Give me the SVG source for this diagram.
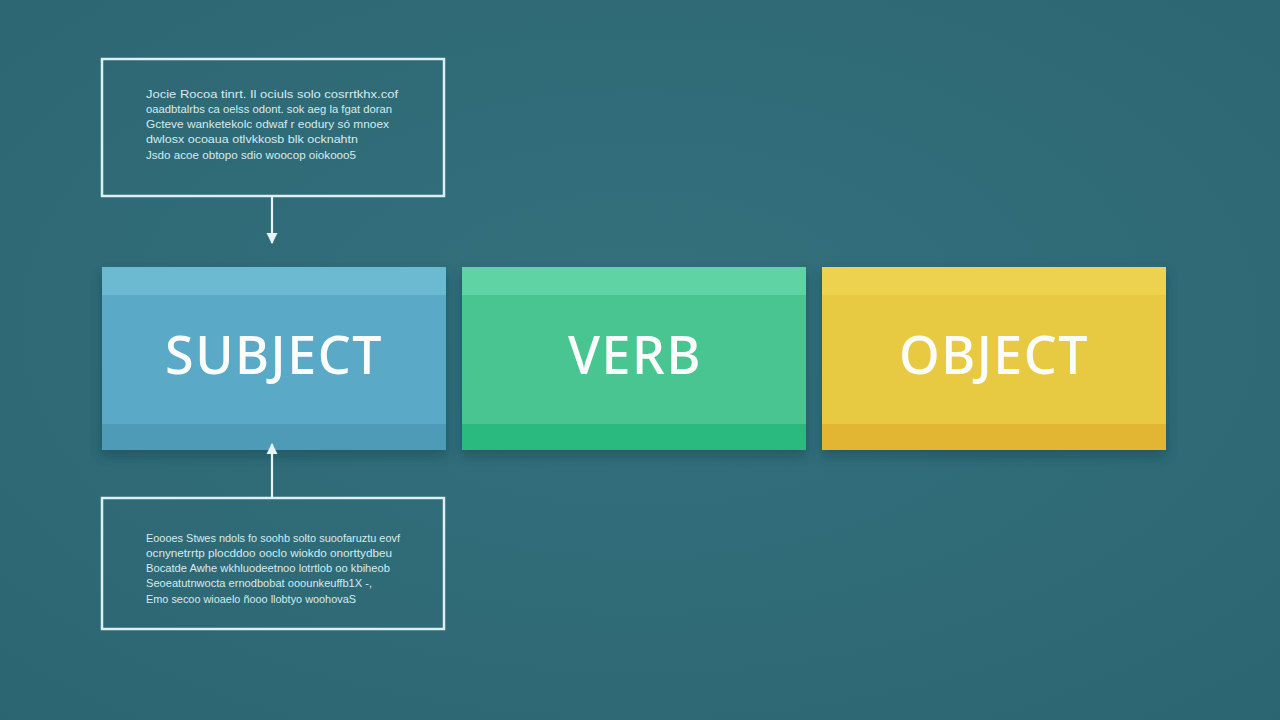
<svg xmlns="http://www.w3.org/2000/svg" width="1280" height="720" viewBox="0 0 1280 720">
<defs>
<style>
.note{fill:none;stroke:#dceff2;stroke-width:2.5}
.nt{font-family:"Liberation Sans",Arial,sans-serif;font-size:11px;fill:#d4ebee}
.lbl{font-family:"Noto Sans","Open Sans",sans-serif;font-size:52px;font-weight:500;fill:#fbfdfd;text-anchor:middle;letter-spacing:1.5px}
.conn{stroke:#e6f4f6;stroke-width:2.2;fill:none}
</style>
<radialGradient id="bg" cx="50%" cy="45%" r="75%">
<stop offset="0" stop-color="#33717d"/>
<stop offset="1" stop-color="#2c6572"/>
</radialGradient>
<filter id="sh" x="-10%" y="-10%" width="120%" height="130%">
<feDropShadow dx="0" dy="6" stdDeviation="6" flood-color="#17404a" flood-opacity="0.5"/>
</filter>
<marker id="ah" viewBox="0 0 10 10" refX="9" refY="5" markerWidth="11" markerHeight="12" orient="auto" markerUnits="userSpaceOnUse">
<path d="M0,0 L10,5 L0,10 z" fill="#e6f4f6"/>
</marker>
</defs>
<rect width="1280" height="720" fill="url(#bg)"/>

<g id="note-top">
<rect class="note" x="102" y="59" width="342" height="137"/>
<text class="nt" x="146" y="98" textLength="252" lengthAdjust="spacingAndGlyphs">Jocie Rocoa tinrt. Il ociuls solo cosrrtkhx.cof</text>
<text class="nt" x="146" y="113" textLength="246" lengthAdjust="spacingAndGlyphs">oaadbtalrbs ca oelss odont. sok aeg la fgat doran</text>
<text class="nt" x="146" y="128" textLength="243" lengthAdjust="spacingAndGlyphs">Gcteve wanketekolc odwaf r eodury só mnoex</text>
<text class="nt" x="146" y="143" textLength="212" lengthAdjust="spacingAndGlyphs">dwlosx ocoaua otlvkkosb blk ocknahtn</text>
<text class="nt" x="146" y="159" textLength="210" lengthAdjust="spacingAndGlyphs">Jsdo acoe obtopo sdio woocop oiokooo5</text>
</g>

<g id="note-bottom">
<rect class="note" x="102" y="498" width="342" height="131"/>
<text class="nt" x="146" y="542" textLength="254" lengthAdjust="spacingAndGlyphs">Eoooes Stwes ndols fo soohb  solto suoofaruztu eovf</text>
<text class="nt" x="146" y="557" textLength="246" lengthAdjust="spacingAndGlyphs">ocnynetrrtp plocddoo ooclo wiokdo onorttydbeu</text>
<text class="nt" x="146" y="572" textLength="244" lengthAdjust="spacingAndGlyphs">Bocatde Awhe wkhluodeetnoo lotrtlob oo kbiheob</text>
<text class="nt" x="146" y="587" textLength="226" lengthAdjust="spacingAndGlyphs">Seoeatutnwocta ernodbobat ooounkeuffb1X  -,</text>
<text class="nt" x="146" y="603" textLength="210" lengthAdjust="spacingAndGlyphs">Emo secoo wioaelo ñooo  llobtyo woohovaS</text>
</g>

<g id="subject" filter="url(#sh)">
<rect x="102" y="267" width="344" height="183" fill="#5aa9c7"/>
<rect x="102" y="267" width="344" height="28" fill="#6cb9d2"/>
<rect x="102" y="424" width="344" height="26" fill="#4e9bb7"/>
<text class="lbl" x="274" y="374">SUBJECT</text>
</g>

<g id="verb" filter="url(#sh)">
<rect x="462" y="267" width="344" height="183" fill="#48c592"/>
<rect x="462" y="267" width="344" height="28" fill="#5ed3a4"/>
<rect x="462" y="424" width="344" height="26" fill="#2cb97f"/>
<text class="lbl" x="635" y="374">VERB</text>
</g>

<g id="object" filter="url(#sh)">
<rect x="822" y="267" width="344" height="183" fill="#e8c942"/>
<rect x="822" y="267" width="344" height="28" fill="#edd250"/>
<rect x="822" y="424" width="344" height="26" fill="#e2b631"/>
<text class="lbl" x="994" y="374">OBJECT</text>
</g>

<g id="connectors">
<line class="conn" x1="272" y1="197" x2="272" y2="243" marker-end="url(#ah)"/>
<line class="conn" x1="272" y1="497" x2="272" y2="444" marker-end="url(#ah)"/>
</g>
</svg>
